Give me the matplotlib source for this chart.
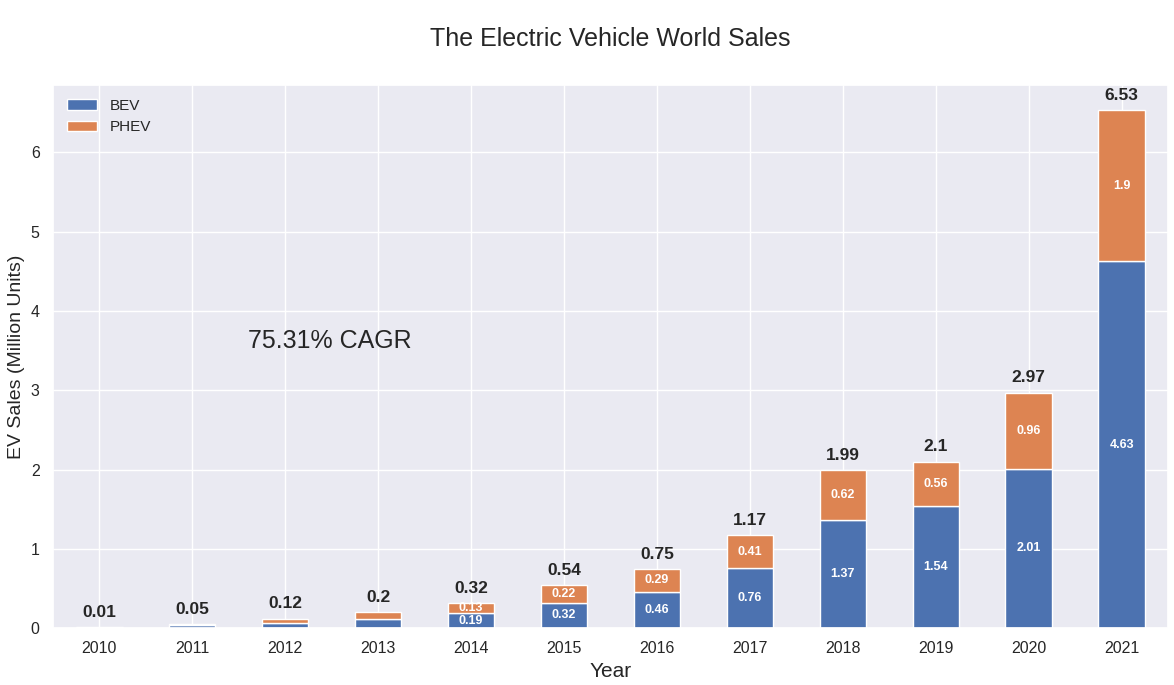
import numpy as np
import pandas as pd
import seaborn as sns
from matplotlib import pyplot as plt

years = [2010, 2011, 2012, 2013, 2014, 2015, 2016, 2017, 2018, 2019, 2020, 2021]
bev = [0.01, 0.04, 0.06, 0.11, 0.19, 0.32, 0.46, 0.76, 1.37, 1.54, 2.01, 4.63]
phev = [0.00, 0.01, 0.06, 0.09, 0.13, 0.22, 0.29, 0.41, 0.62, 0.56, 0.96, 1.90]
totals = [0.01, 0.05, 0.12, 0.2, 0.32, 0.54, 0.75, 1.17, 1.99, 2.1, 2.97, 6.53]

sns.set_theme(style='darkgrid')
plt.rcParams['font.family'] = ['Liberation Sans', 'DejaVu Sans']

df = pd.DataFrame({'BEV': bev, 'PHEV': phev}, index=years)

fig, ax = plt.subplots(figsize=(11.74, 6.85), dpi=100)
df.plot(kind='bar', stacked=True, ax=ax, color=['#4c72b0', '#dd8452'],
        edgecolor='white', linewidth=1, width=0.5)

# segment labels
for cont in ax.containers:
    labels = ['%g' % v if v >= 0.13 else '' for v in cont.datavalues]
    ax.bar_label(cont, labels=labels, label_type='center', color='white',
                 fontsize=9, fontweight='bold')

# totals on top
for i, t in enumerate(totals):
    ax.text(i, t + 0.09, '%g' % t, ha='center', va='bottom',
            fontsize=12.5, fontweight='bold', color='#262626')

ax.text(1.6, 3.53, '75.31% CAGR', fontsize=18, color='#262626')

ax.set_title('The Electric Vehicle World Sales', fontsize=18, pad=28)
ax.set_xlabel('Year', fontsize=15)
ax.set_ylabel('EV Sales (Million Units)', fontsize=14)
ax.tick_params(axis='x', rotation=0, labelsize=11.5)
ax.tick_params(axis='y', labelsize=11.5)
ax.set_ylim(0, 6.85)
ax.legend(loc='upper left', fontsize=11, frameon=False)

plt.subplots_adjust(left=0.045, right=0.995, top=0.876, bottom=0.083)
plt.savefig('out.png')
